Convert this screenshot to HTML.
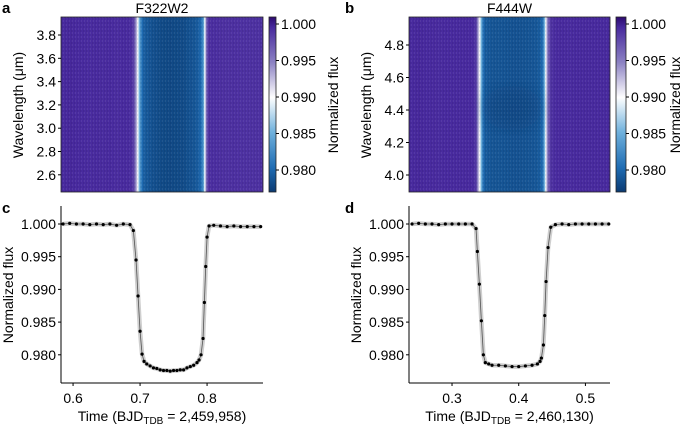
<!DOCTYPE html>
<html><head><meta charset="utf-8"><style>
body{margin:0;background:#fff;width:685px;height:427px;overflow:hidden}
svg{display:block;font-family:"Liberation Sans",sans-serif}
</style></head><body>
<svg id="fig" width="685" height="427"></svg>
<script>
// ---- data ----
const tC=[0.585,0.595,0.605,0.615,0.625,0.635,0.645,0.655,0.665,0.675,0.685,0.690,0.694,0.697,0.700,0.703,0.706,0.710,0.715,0.720,0.725,0.730,0.735,0.740,0.745,0.750,0.755,0.760,0.765,0.770,0.775,0.780,0.785,0.788,0.791,0.794,0.796,0.798,0.800,0.803,0.810,0.820,0.830,0.840,0.850,0.860,0.870,0.880];
const fC=[1.0000,1.0001,1.0000,1.0000,0.9999,1.0000,0.9999,1.0000,0.9998,1.0000,0.9999,0.9990,0.9945,0.9890,0.9836,0.9801,0.9790,0.9786,0.9783,0.9780,0.9779,0.9777,0.9776,0.9776,0.9775,0.9776,0.9776,0.9777,0.9777,0.9780,0.9782,0.9784,0.9788,0.9792,0.9800,0.9825,0.9880,0.9935,0.9980,0.9997,0.9998,0.9997,0.9996,0.9997,0.9996,0.9996,0.9996,0.9996];
const tD=[0.240,0.250,0.260,0.270,0.280,0.290,0.300,0.310,0.320,0.330,0.336,0.338,0.341,0.344,0.347,0.350,0.355,0.360,0.370,0.380,0.390,0.400,0.410,0.420,0.428,0.432,0.434,0.437,0.439,0.441,0.444,0.448,0.455,0.465,0.475,0.485,0.495,0.505,0.515,0.525,0.535];
const fD=[1.0000,1.0001,1.0000,1.0000,0.9999,1.0000,1.0000,1.0000,1.0000,1.0000,0.9993,0.9958,0.9908,0.9852,0.9800,0.9788,0.9786,0.9784,0.9784,0.9783,0.9782,0.9782,0.9783,0.9784,0.9786,0.9790,0.9795,0.9815,0.9860,0.9912,0.9964,0.9995,0.9999,1.0000,0.9999,1.0000,1.0000,1.0000,1.0000,1.0000,1.0000];
const fluxTicks=[1.000,0.995,0.990,0.985,0.980];
const wlTicksA=[3.8,3.6,3.4,3.2,3.0,2.8,2.6];
const wlTicksB=[4.8,4.6,4.4,4.2,4.0];
const timeTicksC=[0.6,0.7,0.8];
const timeTicksD=[0.3,0.4,0.5];

const NS="http://www.w3.org/2000/svg",svg=document.getElementById('fig');
const FS=14;
function el(tag,attrs,parent,text){const e=document.createElementNS(NS,tag);for(const k in attrs)e.setAttribute(k,attrs[k]);if(text!==undefined)e.textContent=text;(parent||svg).appendChild(e);return e;}
const stops=[[1.0015,[45,10,110]],[1.000,[72,42,158]],[0.995,[140,130,195]],[0.990,[255,255,255]],[0.985,[110,176,220]],[0.980,[31,108,179]],[0.9765,[11,58,114]]];
function cmap(f){if(f>=stops[0][0])return 'rgb('+stops[0][1]+')';for(let i=0;i<stops.length-1;i++){const a=stops[i],b=stops[i+1];if(f<=a[0]&&f>=b[0]){const u=(a[0]-f)/(a[0]-b[0]);return 'rgb('+a[1].map((v,j)=>Math.round(v+(b[1][j]-v)*u)).join(',')+')';}}return 'rgb('+stops[stops.length-1][1]+')';}
function interp(ts,fs,t){if(t<=ts[0])return fs[0];for(let i=0;i<ts.length-1;i++)if(t<=ts[i+1]){const u=(t-ts[i])/(ts[i+1]-ts[i]);return fs[i]+(fs[i+1]-fs[i])*u;}return fs[fs.length-1];}

function panel(o){
  const g=el('g',{}),xs=t=>o.x0+(t-o.t0)/0.1*o.pxPer01;
  const L=el('text',{x:o.letterX,y:13,'font-size':15,'font-weight':'bold'},g,o.letter);
  
  const T=el('text',{x:(o.x0+o.x1)/2,y:13,'font-size':FS,'text-anchor':'middle'},g,o.title);
  
  const hm=el('g',{},g);
  for(let x=o.x0;x<o.x1;x++){const t=o.t0+(x+0.5-o.x0)/o.pxPer01*0.1;
    el('rect',{x:x,y:17,width:1.05,height:175,fill:cmap(interp(o.ts,o.fs,t))},hm);}
  if(o.blob){const e=el('ellipse',{cx:(xs(0.36)+xs(0.42))/2,cy:108,rx:30,ry:22,fill:'#0b3a72',opacity:0.35,filter:'url(#blur)'},hm);}
  el('rect',{x:o.x0,y:17,width:o.x1-o.x0,height:175,fill:'url(#noise)',opacity:0.07},hm);
  el('rect',{x:o.x0,y:17,width:o.x1-o.x0,height:175,fill:'none',stroke:'#222','stroke-width':0.8},g);
  const wy=w=>o.wy0+(o.wt0-w)/0.2*o.wpx;
  o.wticks.forEach(w=>{el('line',{x1:o.x0-3,x2:o.x0,y1:wy(w),y2:wy(w),stroke:'#000'},g);
    const tx=el('text',{x:o.x0-5,y:wy(w)+5,'font-size':FS,'text-anchor':'end'},g,w.toFixed(1));});
  const wl=el('text',{transform:`translate(${o.x0-38},105) rotate(-90)`,'font-size':FS,'text-anchor':'middle'},g,'Wavelength (μm)');
  
  const cb=el('rect',{x:o.cbx,y:17,width:o.cbw,height:175,fill:'url(#cbgrad)',stroke:'#222','stroke-width':0.8},g);
  
  const cy=f=>24+(1-f)/0.005*36.5;
  fluxTicks.forEach(f=>{el('line',{x1:o.cbx+o.cbw,x2:o.cbx+o.cbw+3,y1:cy(f),y2:cy(f),stroke:'#000'},g);
    const tx=el('text',{x:o.cbx+o.cbw+5,y:cy(f)+5,'font-size':FS},g,f.toFixed(3));});
  const ct=el('text',{transform:`translate(${o.cbtx},105) rotate(-90)`,'font-size':FS,'text-anchor':'middle'},g,'Normalized flux');
  
  const L2=el('text',{x:o.letterX,y:213,'font-size':15,'font-weight':'bold'},g,o.letter2);
  
  const fy=f=>224+(1-f)/0.005*32.7;
  const pts=o.ts.map((t,i)=>xs(t)+','+fy(o.fs[i])).join(' ');
  const band=el('polyline',{points:pts,fill:'none',stroke:'#cfcfcf','stroke-width':4.5,'stroke-linejoin':'round'},g);
  
  const bl=el('polyline',{points:pts,fill:'none',stroke:'#555','stroke-width':0.8},g);
  
  o.ts.forEach((t,i)=>{const c=el('circle',{cx:xs(t),cy:fy(o.fs[i]),r:1.6,fill:'#000'},g);});
  el('line',{x1:o.x0,x2:o.x0,y1:206,y2:383,stroke:'#000'},g);
  el('line',{x1:o.x0,x2:o.x1,y1:383,y2:383,stroke:'#000'},g);
  fluxTicks.forEach(f=>{el('line',{x1:o.x0-3,x2:o.x0,y1:fy(f),y2:fy(f),stroke:'#000'},g);
    const tx=el('text',{x:o.x0-5,y:fy(f)+5,'font-size':FS,'text-anchor':'end'},g,f.toFixed(3));});
  o.tticks.forEach(t=>{el('line',{x1:xs(t),x2:xs(t),y1:383,y2:386,stroke:'#000'},g);
    const tx=el('text',{x:xs(t),y:403,'font-size':FS,'text-anchor':'middle'},g,t.toFixed(1));});
  const yt=el('text',{transform:`translate(${o.x0-48},295) rotate(-90)`,'font-size':FS,'text-anchor':'middle'},g,'Normalized flux');
  
  const xt=el('text',{x:(o.x0+o.x1)/2,y:421,'font-size':FS,'text-anchor':'middle'},g);
  
  el('tspan',{},xt,'Time (BJD');el('tspan',{'font-size':10,dy:3},xt,'TDB');el('tspan',{dy:-3},xt,' = '+o.ref+')');
}
const defs=el('defs',{});
const gr=el('linearGradient',{id:'cbgrad',x1:0,y1:0,x2:0,y2:1},defs);
stops.forEach(s=>el('stop',{offset:((1.0015-s[0])/0.025*100)+'%','stop-color':'rgb('+s[1]+')'},gr));
const fl=el('filter',{id:'blur'},defs);el('feGaussianBlur',{stdDeviation:8},fl);
const pat=el('pattern',{id:'noise',width:3,height:4,patternUnits:'userSpaceOnUse'},defs);
el('rect',{x:0,y:0,width:1,height:2,fill:'#fff'},pat);el('rect',{x:2,y:2,width:1,height:2,fill:'#000'},pat);
panel({letter:'a',letter2:'c',letterX:2,title:'F322W2',x0:61,x1:263,t0:0.582,pxPer01:67,ts:tC,fs:fC,wticks:wlTicksA,wy0:35,wt0:3.8,wpx:23.3,cbx:269,cbw:7,cbtx:338,tticks:timeTicksC,ref:'2,459,958'});
panel({letter:'b',letter2:'d',letterX:345,title:'F444W',x0:409,x1:610,t0:0.2355,pxPer01:66.7,ts:tD,fs:fD,wticks:wlTicksB,wy0:45,wt0:4.8,wpx:32.5,cbx:616,cbw:10,cbtx:680,tticks:timeTicksD,ref:'2,460,130',blob:true});
</script>
</body></html>
